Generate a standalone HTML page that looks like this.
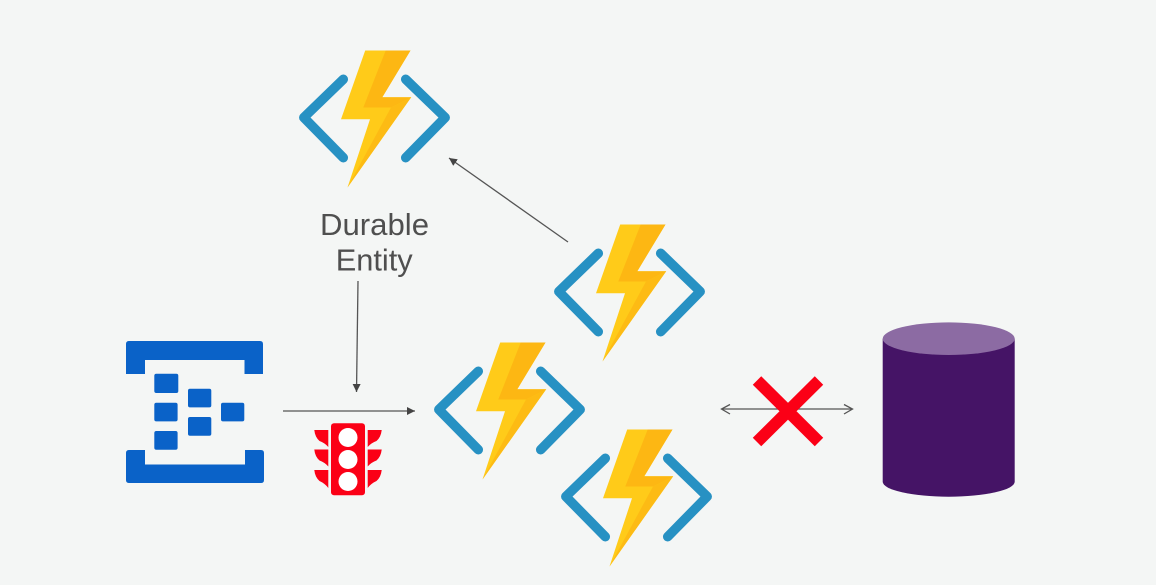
<!DOCTYPE html>
<html>
<head>
<meta charset="utf-8">
<style>
html,body{margin:0;padding:0;background:#f4f6f5;}
svg{display:block;}
text{font-family:"Liberation Sans",sans-serif;font-size:31px;fill:#4f4f4f;text-anchor:middle;}
</style>
</head>
<body>
<svg width="1156" height="585" viewBox="0 0 1156 585" xmlns="http://www.w3.org/2000/svg">
<defs>
<g id="fn">
  <path d="M53.300 39.300 L13.800 77.500 L53.300 117.700" fill="none" stroke="#2791c3" stroke-width="9.500" stroke-linecap="round" stroke-linejoin="round"/>
  <path d="M115.700 39.300 L155.200 77.500 L115.700 117.700" fill="none" stroke="#2791c3" stroke-width="9.500" stroke-linecap="round" stroke-linejoin="round"/>
  <polygon points="75.200,10.500 120.500,10.500 92.300,57.200 121.200,57.200 57.500,147.500 80,79.300 51,79.300" fill="#ffcb19"/>
  <polygon points="95.700,10.500 120.500,10.500 92.300,57.200 121.200,57.200 101,67.500 73.300,67.500" fill="#fdb713"/>
  <polygon points="101,67.500 121.200,57.200 57.500,147.500" fill="#fdbb14"/>
</g>
<marker id="a" markerWidth="9" markerHeight="8" refX="8" refY="4" orient="auto" markerUnits="userSpaceOnUse">
  <path d="M0 0 L8 4 L0 8 Z" fill="#444"/>
</marker>
</defs>

<rect width="1156" height="585" fill="#f4f6f5"/>

<use href="#fn" x="290" y="40"/>
<use href="#fn" x="545" y="214"/>
<use href="#fn" x="425" y="332"/>
<use href="#fn" x="552" y="419"/>

<text x="374.500" y="235" textLength="109" lengthAdjust="spacingAndGlyphs">Durable</text>
<text x="374.200" y="270.500" textLength="77" lengthAdjust="spacingAndGlyphs">Entity</text>

<line x1="358" y1="281" x2="356.500" y2="392" stroke="#555" stroke-width="1.300" marker-end="url(#a)"/>
<line x1="283" y1="411" x2="415" y2="411" stroke="#555" stroke-width="1.300" marker-end="url(#a)"/>
<line x1="568" y1="242" x2="449" y2="158" stroke="#555" stroke-width="1.300" marker-end="url(#a)"/>

<path d="M145 374 H126 V344 Q126 341 129 341 H260 Q263 341 263 344 V374 H244.500 V360 H145 Z" fill="#0a62c8"/>
<path d="M145 450 H129 Q126 450 126 453 V480 Q126 483 129 483 H261 Q264 483 264 480 V453 Q264 450 261 450 H245 V464.500 H145 Z" fill="#0a62c8"/>
<g fill="#0a62c8">
  <rect x="154.300" y="373.700" width="24" height="19.300" rx="2"/>
  <rect x="188" y="388.700" width="23.300" height="18.700" rx="2"/>
  <rect x="154.300" y="402.700" width="23.300" height="18.700" rx="2"/>
  <rect x="221" y="402.700" width="23.300" height="18.700" rx="2"/>
  <rect x="188" y="417" width="23.300" height="18.700" rx="2"/>
  <rect x="154.300" y="431" width="23.300" height="18.700" rx="2"/>
</g>

<rect x="331" y="423.300" width="34" height="72" rx="3" fill="#fb0016"/>
<g fill="#fff">
  <circle cx="348" cy="437.500" r="9.500"/>
  <circle cx="348" cy="459.500" r="9.500"/>
  <circle cx="348" cy="481.500" r="9.500"/>
</g>
<g fill="#fb0016">
  <path d="M314.300 430 H328.300 V447 Q325 443 319.500 441 Q315 437 314.300 430 Z"/>
  <path d="M314.300 449.500 H328.300 V466.500 Q325 462.500 319.500 460.500 Q315 456.500 314.300 449.500 Z"/>
  <path d="M314.300 470 H328.300 V488 Q325 483.500 319.500 481 Q315 477 314.300 470 Z"/>
  <path d="M381.700 430 H367.700 V447 Q371 443 376.500 441 Q381 437 381.700 430 Z"/>
  <path d="M381.700 449.500 H367.700 V466.500 Q371 462.500 376.500 460.500 Q381 456.500 381.700 449.500 Z"/>
  <path d="M381.700 470 H367.700 V488 Q371 483.500 376.500 481 Q381 477 381.700 470 Z"/>
</g>

<line x1="722" y1="409" x2="852" y2="409" stroke="#555" stroke-width="1.300"/>
<path d="M730 404.500 L721.500 409 L730 414" fill="none" stroke="#555" stroke-width="1.300"/>
<path d="M844 404.500 L852.500 409 L844 414" fill="none" stroke="#555" stroke-width="1.300"/>
<line x1="757" y1="380.500" x2="819" y2="442" stroke="#fb0016" stroke-width="12"/>
<line x1="819" y1="380.500" x2="757" y2="442" stroke="#fb0016" stroke-width="12"/>

<path d="M882.700 338.700 V481.700 A66 15 0 0 0 1014.700 481.700 V338.700 Z" fill="#451466"/>
<ellipse cx="948.700" cy="338.700" rx="66" ry="16.300" fill="#8c6ba3"/>
</svg>
</body>
</html>
